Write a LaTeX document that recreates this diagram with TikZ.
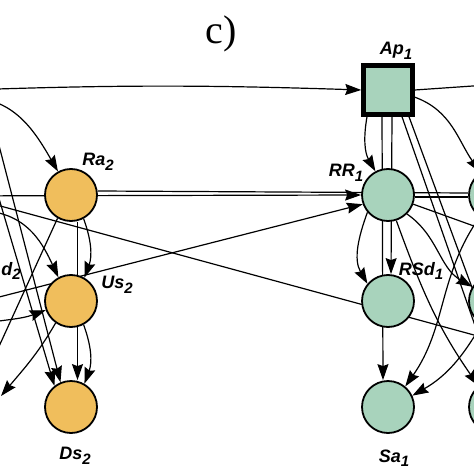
\documentclass[tikz,border=0pt]{standalone}
\usepackage{fontspec}
\setmainfont{Liberation Serif}
\setsansfont{Liberation Sans}
\usetikzlibrary{backgrounds, positioning, arrows.meta}

\definecolor{nodeorange}{RGB}{240,190,92}
\definecolor{nodegreen}{RGB}{168,211,188}

\newcommand{\lsub}[1]{\raisebox{-4.5bp}{\fontsize{15bp}{15bp}\selectfont #1}}

\tikzset{
  circ/.style={circle, draw, line width=1.8bp, minimum size=52bp, inner sep=0pt},
  lbl/.style={font=\sffamily\bfseries\itshape\fontsize{18bp}{18bp}\selectfont, inner sep=0pt},
  link/.style={line width=1.2bp, >={Stealth[length=16bp, width=11bp, inset=2bp]}, ->},
  plain/.style={line width=1.2bp},
}

\begin{document}
\begin{tikzpicture}[x=1bp, y=1bp, on grid]
    \useasboundingbox (0,0) rectangle (474,-474);

    % orange column
    \node[circ, fill=nodeorange] (ra2) at (71,-195) {};
    \node[circ, fill=nodeorange, below = 106bp of ra2] (us2) {};
    \node[circ, fill=nodeorange, below = 106bp of us2] (ds2) {};

    % green column
    \node[circ, fill=nodegreen, right = 317bp of ra2] (rr1) {};
    \node[circ, fill=nodegreen, below = 106bp of rr1] (rsd1) {};
    \node[circ, fill=nodegreen, below = 106bp of rsd1] (sa1) {};
    \node[draw, line width=4.5bp, fill=nodegreen, minimum size=49bp,
      inner sep=0pt, above = 105bp of rr1] (ap1) {};

    % next column, cut off by the right edge
    \node[circ, fill=nodegreen, right = 107bp of rr1] (rt) {};
    \node[circ, fill=nodegreen, below = 106bp of rt] (rm) {};
    \node[circ, fill=nodegreen, below = 106bp of rm] (rb) {};

    \node[lbl] (ra2-t) at (98,-162) {Ra\lsub{2}};
    \node[lbl] (us2-t) at (117,-285) {Us\lsub{2}};
    \node[lbl] (ds2-t) at (75,-456) {Ds\lsub{2}};
    \node[lbl] (ap1-t) at (396,-51) {Ap\lsub{1}};
    \node[lbl] (rr1-t) at (346,-173) {RR\lsub{1}};
    \node[lbl] (rsd1-t) at (421,-271) {RSd\lsub{1}};
    \node[lbl] (sa1-t) at (394,-458) {Sa\lsub{1}};
    \node[lbl, anchor=east] (d2-t) at (21,-271) {d\lsub{2}};
    \node[font=\fontsize{40bp}{40bp}\selectfont] (title) at (221,-34) {c)};

    \begin{scope}[on background layer]
      \clip (0,0) rectangle (474,-474);
      % loose ends outside the picture
      \coordinate (in-ap) at (-60,-91);
      \coordinate (out-ap) at (560,-80);
      \coordinate (in-ra) at (-30,-98);
      \coordinate (in-rr-a) at (-60,-196);
      \coordinate (in-long) at (-40,-195);
      \coordinate (out-long) at (540,-353);
      \coordinate (in-us-a) at (-6,-212);
      \coordinate (in-rr-b) at (-40,-307);
      \coordinate (in-us-b) at (-20,-324);
      \coordinate (in-ds-a) at (-5,-185);
      \coordinate (in-ds-b) at (-5,-130);
      \coordinate (out-ra) at (-20,-388);
      \coordinate (out-us) at (1,-396);
      \coordinate (out-ap-a) at (529,-480);
      \coordinate (out-ap-b) at (543,-480);
      \coordinate (out-rr) at (560,-257);

      % from the left
      \draw[link] (in-ap) to[bend left=2] (ap1.west);
      \draw[link] (in-ra) to[out=0, in=120] (ra2.119);
      \draw[link] (in-rr-a) -- (rr1.west);
      \draw[plain] (in-long) -- (out-long);
      \draw[link] (in-us-a) to[out=-10, in=115] (us2.118);
      \draw[link] (in-rr-b) -- (rr1.200);
      \draw[link] (in-us-b) to[out=10, in=200] (us2.200);
      \draw[link] (in-ds-a) -- (ds2.128);
      \draw[link] (in-ds-b) -- (ds2.113);

      % orange column
      \draw[link] (ra2.-62) to[out=-70, in=70] (us2.60);
      \draw[link] ([xshift=6.5bp]ra2.south) -- ([xshift=6.5bp]ds2.north);
      \draw[link] (us2.-62) to[out=-70, in=70] (ds2.60);
      \draw[link] (ra2.240) -- (out-ra);
      \draw[link] (us2.235) to[out=240, in=50] (out-us);
      \draw[plain] ([yshift=4bp]ra2.east) -- ([yshift=2bp]rt.west);

      % green column
      \draw[plain] (ap1.east) -- (out-ap);
      \draw[link] (ap1.-15) to[out=-20, in=125] (rt.123);
      \draw[link] ([xshift=-21bp]ap1.south) to[out=-100, in=120] (rr1.118);
      \draw[link] ([xshift=4bp]ap1.south) -- ([xshift=3bp]rsd1.north);
      \draw[link] ([xshift=-6bp]ap1.south) -- ([xshift=-5bp]sa1.north);
      \draw[plain] ([xshift=14bp]ap1.south) -- (out-ap-a);
      \draw[plain] ([xshift=21bp]ap1.south) -- (out-ap-b);
      \draw[plain] ([yshift=-2bp]rr1.east) -- ([yshift=-2bp]rt.west);
      \draw[plain] (rr1.-20) -- (out-rr);
      \draw[link] (rr1.220) to[out=250, in=120] (rsd1.140);
      \draw[link] (rr1.-45) to[out=-35, in=150] (rm.148);
      \draw[link] (rr1.-72) to[out=-70, in=125] (rb.128);
      \draw[link] (rt.235) to[out=235, in=55] (sa1.50);
      \draw[link] (rm.240) to[out=240, in=30] (sa1.25);
    \end{scope}
\end{tikzpicture}
\end{document}
